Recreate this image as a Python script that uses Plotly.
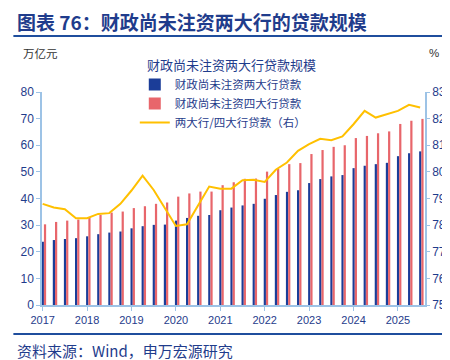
import plotly.graph_objects as go

# ---- data ----
quarters = [f"{y}Q{q}" for y in range(2017, 2026) for q in range(1, 5)][:35]
two_banks = [23.8, 24.4, 24.8, 25.1, 25.8, 26.6, 27.2, 27.6, 28.8, 29.6,
             30.1, 30.2, 31.7, 32.7, 33.5, 33.8, 35.6, 36.6, 37.4, 38.0,
             39.9, 41.3, 42.5, 43.1, 45.8, 47.3, 48.3, 48.8, 51.4, 52.3,
             52.9, 53.4, 55.9, 57.0, 57.7]
four_banks = [30.3, 31.2, 31.7, 32.1, 32.9, 33.8, 34.7, 35.1, 36.4, 37.1,
              38.0, 38.5, 40.7, 41.9, 42.6, 42.6, 45.0, 46.1, 47.4, 47.5,
              50.1, 51.1, 52.9, 53.3, 56.7, 58.2, 59.4, 60.0, 62.7, 63.5,
              64.5, 65.2, 68.0, 69.2, 69.9]
ratio = [78.80, 78.66, 78.60, 78.26, 78.26, 78.42, 78.45, 78.80, 79.30, 79.86,
         79.32, 78.66, 77.97, 78.03, 78.74, 79.45, 79.37, 79.37, 79.69, 79.70,
         79.62, 80.08, 80.35, 80.79, 81.04, 81.24, 81.19, 81.33, 81.79, 82.29,
         82.04, 82.16, 82.29, 82.52, 82.42]
year_ticks = list(range(2017, 2026))
names = ["财政尚未注资两大行贷款", "财政尚未注资四大行贷款", "两大行/四大行贷款（右）"]

x = [int(q[:4]) + (int(q[-1]) - 1) / 4 for q in quarters]

NAVY = "#1F3C8C"
AXIS = "#9DC3E6"
FONT = "Liberation Sans, Arial, Noto Sans CJK SC, sans-serif"
CJK = "Noto Sans CJK SC, sans-serif"

fig = go.Figure()
fig.add_trace(go.Bar(x=x, y=two_banks, name=names[0], marker_color="#1B3D98",
                     marker_line_width=0, offset=-0.022, width=0.05))
fig.add_trace(go.Bar(x=x, y=four_banks, name=names[1], marker_color="#E8666B",
                     marker_line_width=0, offset=0.028, width=0.05))
fig.add_trace(go.Scatter(x=x, y=ratio, name=names[2], yaxis="y2", mode="lines",
                         line=dict(color="#FFC000", width=2)))

L, R, T, B = 29, 33, 84, 63
PW, PH = 450 - L - R, 360 - T - B
def px(v):
    return (v - L) / PW
def py(v):
    return (360 - B - v) / PH

fig.update_layout(
    width=450, height=360,
    margin=dict(l=L, r=R, t=T, b=B),
    paper_bgcolor="white", plot_bgcolor="white",
    barmode="overlay",
    showlegend=True,
    legend=dict(x=px(123), y=py(62), xanchor="left", yanchor="top",
                font=dict(family=CJK, size=11.5, color=NAVY),
                bgcolor="rgba(0,0,0,0)", tracegroupgap=0, itemwidth=30),
    xaxis=dict(range=[2016.985, 2025.61], tickvals=year_ticks,
               ticktext=[str(y) for y in year_ticks],
               showline=True, linecolor=AXIS, linewidth=1.5,
               ticks="outside", ticklen=4, tickcolor=AXIS, showgrid=False,
               zeroline=False, tickfont=dict(family=FONT, size=11, color=NAVY)),
    yaxis=dict(range=[0, 80], dtick=10, showline=True, linecolor=AXIS, linewidth=1.5,
               ticks="outside", ticklen=4, tickcolor=AXIS, showgrid=False,
               zeroline=False, tickfont=dict(family=FONT, size=12, color=NAVY)),
    yaxis2=dict(range=[75, 83], dtick=1, overlaying="y", side="right",
                showline=True, linecolor=AXIS, linewidth=1.5,
                ticks="outside", ticklen=3, tickcolor=AXIS, showgrid=False,
                zeroline=False, tickfont=dict(family=FONT, size=12, color=NAVY)),
)

ann = [
    dict(text="<b>图表 76：财政尚未注资两大行的贷款规模</b>", x=px(2), y=py(14),
         xanchor="left", yanchor="middle", font=dict(family=CJK, size=19, color=NAVY)),
    dict(text="万亿元", x=px(8), y=py(45), xanchor="left", yanchor="middle",
         font=dict(family=CJK, size=11.5, color="#333333")),
    dict(text="%", x=px(426), y=py(45), xanchor="center", yanchor="middle",
         font=dict(family=FONT, size=11.5, color="#333333")),
    dict(text="财政尚未注资两大行贷款规模", x=px(221), y=py(57), xanchor="center",
         yanchor="middle", font=dict(family=CJK, size=13, color=NAVY)),
    dict(text="资料来源：Wind，申万宏源研究", x=px(2), y=py(342), xanchor="left",
         yanchor="middle", font=dict(family=CJK, size=15, color=NAVY)),
]
for a in ann:
    a.update(xref="paper", yref="paper", showarrow=False)
fig.update_layout(annotations=ann)

fig.update_layout(shapes=[
    dict(type="line", xref="paper", yref="paper", x0=px(0), x1=px(450),
         y0=py(28), y1=py(28), line=dict(color="#1F4E9D", width=2)),
    dict(type="line", xref="paper", yref="paper", x0=px(0), x1=px(450),
         y0=py(326), y1=py(326), line=dict(color="#1F4E9D", width=2)),
])

fig.write_html("out.html")
